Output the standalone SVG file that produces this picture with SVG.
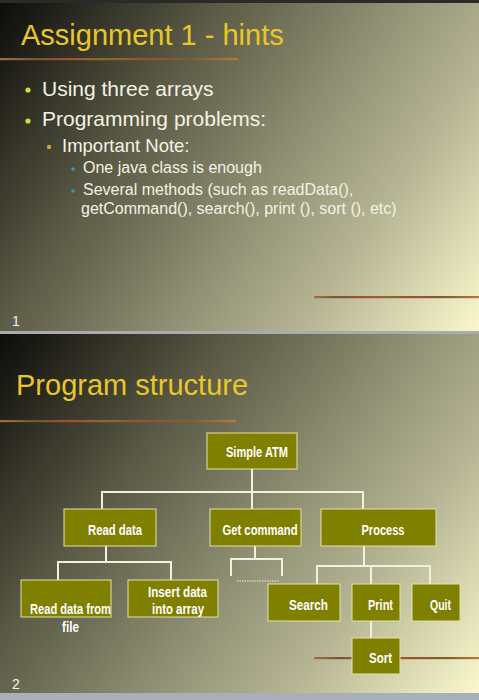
<svg xmlns="http://www.w3.org/2000/svg" width="479" height="700" viewBox="0 0 479 700">
<defs>
<linearGradient id="bg1" gradientUnits="userSpaceOnUse" x1="0" y1="3" x2="479" y2="331">
<stop offset="0" stop-color="#0c0c0a"/>
<stop offset="0.3" stop-color="#585844"/>
<stop offset="0.55" stop-color="#8e8e72"/>
<stop offset="0.75" stop-color="#b6b695"/>
<stop offset="1" stop-color="#fbf8cc"/>
</linearGradient>
<linearGradient id="bg2" gradientUnits="userSpaceOnUse" x1="0" y1="334" x2="479" y2="693">
<stop offset="0" stop-color="#0c0c0a"/>
<stop offset="0.3" stop-color="#585844"/>
<stop offset="0.55" stop-color="#8e8e72"/>
<stop offset="0.75" stop-color="#b6b695"/>
<stop offset="1" stop-color="#fbf8cc"/>
</linearGradient>
<linearGradient id="deco" x1="0" y1="0" x2="1" y2="0">
<stop offset="0" stop-color="#a07040"/>
<stop offset="0.15" stop-color="#6e5a34"/>
<stop offset="0.3" stop-color="#a84c34"/>
<stop offset="0.45" stop-color="#8a6a2a"/>
<stop offset="0.6" stop-color="#9a5036"/>
<stop offset="0.8" stop-color="#7a6030"/>
<stop offset="1" stop-color="#b87a3a"/>
</linearGradient>
<style>
.title{font-family:"Liberation Sans",Arial,sans-serif;font-size:29px;fill:#e9c72a}
.b1{font-family:"Liberation Sans",Arial,sans-serif;font-size:21px;fill:#f4f2e4}
.b2{font-family:"Liberation Sans",Arial,sans-serif;font-size:18.5px;fill:#f4f2e4}
.b3{font-family:"Liberation Sans",Arial,sans-serif;font-size:16px;fill:#f4f2e4}
.num{font-family:"Liberation Sans",Arial,sans-serif;font-size:14px;fill:#f4f2e4}
.box{fill:#7f7f00;stroke:#e6e2a8;stroke-width:1}
.lbl{font-family:"Liberation Sans",Arial,sans-serif;font-weight:bold;font-size:14.5px;fill:#ffffff;text-anchor:middle}
.con{stroke:#f2f0e2;stroke-width:2;fill:none}
</style>
</defs>
<rect x="0" y="0" width="479" height="700" fill="#a9afb9"/>
<rect x="0" y="0" width="479" height="3" fill="#2a2a28"/>
<rect x="0" y="3" width="479" height="328" fill="url(#bg1)"/>
<rect x="0" y="331" width="479" height="3" fill="#a8acae"/>
<rect x="0" y="334" width="479" height="359" fill="url(#bg2)"/>

<!-- Slide 1 -->
<text class="title" x="21" y="45">Assignment 1 - hints</text>
<rect x="0" y="58" width="238" height="2.2" fill="url(#deco)"/>
<circle cx="28" cy="90" r="2.6" fill="#c8e040"/>
<text class="b1" x="42" y="96">Using three arrays</text>
<circle cx="28" cy="121" r="2.6" fill="#c8e040"/>
<text class="b1" x="42" y="126">Programming problems:</text>
<circle cx="49" cy="147" r="2.2" fill="#d0a040"/>
<text class="b2" x="62" y="152">Important Note:</text>
<circle cx="73" cy="169" r="1.8" fill="#3a9ab0"/>
<text class="b3" x="83" y="173">One java class is enough</text>
<circle cx="73" cy="191" r="1.8" fill="#3a9ab0"/>
<text class="b3" x="83" y="195">Several methods (such as readData(),</text>
<text class="b3" x="81" y="214">getCommand(), search(), print (), sort (), etc)</text>
<rect x="314" y="296" width="165" height="2.2" fill="url(#deco)"/>
<text class="num" x="12" y="326">1</text>

<!-- Slide 2 -->
<text class="title" x="16" y="395">Program structure</text>
<rect x="0" y="420" width="236" height="2.2" fill="url(#deco)"/>
<rect x="314" y="657" width="165" height="2.2" fill="url(#deco)"/>
<text class="num" x="12" y="689">2</text>

<g id="connectors">
<path class="con" d="M252,469 V509 M102,509 V492 H363 V509"/>
<path class="con" d="M106,546 V562 M58,580 V562 H171 V580"/>
<path class="con" d="M255,546 V559 M231,576 V559 H282 V576"/>
<line x1="237" y1="581" x2="279" y2="581" stroke="#f2f0e2" stroke-width="1.2" stroke-dasharray="1.5,1"/>
<path class="con" d="M364,546 V566 M317,584 V566 H430 V584 M371,566 V584"/>
<path class="con" d="M371,621 V638"/>
</g>

<g id="simple-atm"><rect class="box" x="207" y="433" width="90" height="36"/><text class="lbl" x="257" y="457" textLength="62" lengthAdjust="spacingAndGlyphs">Simple ATM</text></g>
<g id="read-data"><rect class="box" x="64" y="509" width="92" height="37"/><text class="lbl" x="115" y="535" textLength="54" lengthAdjust="spacingAndGlyphs">Read data</text></g>
<g id="get-command"><rect class="box" x="210" y="509" width="91" height="37"/><text class="lbl" x="260" y="535" textLength="75" lengthAdjust="spacingAndGlyphs">Get command</text></g>
<g id="process"><rect class="box" x="321" y="509" width="115" height="37"/><text class="lbl" x="383" y="535" textLength="43" lengthAdjust="spacingAndGlyphs">Process</text></g>
<g id="read-file"><rect class="box" x="21" y="580" width="90" height="37"/><text class="lbl" x="70.5" y="614" textLength="81" lengthAdjust="spacingAndGlyphs">Read data from</text><text class="lbl" x="70.5" y="632" textLength="17" lengthAdjust="spacingAndGlyphs">file</text></g>
<g id="insert-data"><rect class="box" x="128" y="580" width="90" height="37"/><text class="lbl" x="177.5" y="597" textLength="59" lengthAdjust="spacingAndGlyphs">Insert data</text><text class="lbl" x="178" y="614" textLength="52" lengthAdjust="spacingAndGlyphs">into array</text></g>
<g id="search"><rect class="box" x="268" y="584" width="72" height="37"/><text class="lbl" x="308.5" y="610" textLength="39" lengthAdjust="spacingAndGlyphs">Search</text></g>
<g id="print"><rect class="box" x="352" y="584" width="48" height="37"/><text class="lbl" x="380.5" y="610" textLength="25" lengthAdjust="spacingAndGlyphs">Print</text></g>
<g id="quit"><rect class="box" x="412" y="584" width="48" height="37"/><text class="lbl" x="440.5" y="610" textLength="21" lengthAdjust="spacingAndGlyphs">Quit</text></g>
<g id="sort"><rect class="box" x="352" y="638" width="48" height="36"/><text class="lbl" x="380.5" y="663" textLength="23" lengthAdjust="spacingAndGlyphs">Sort</text></g>
</svg>
